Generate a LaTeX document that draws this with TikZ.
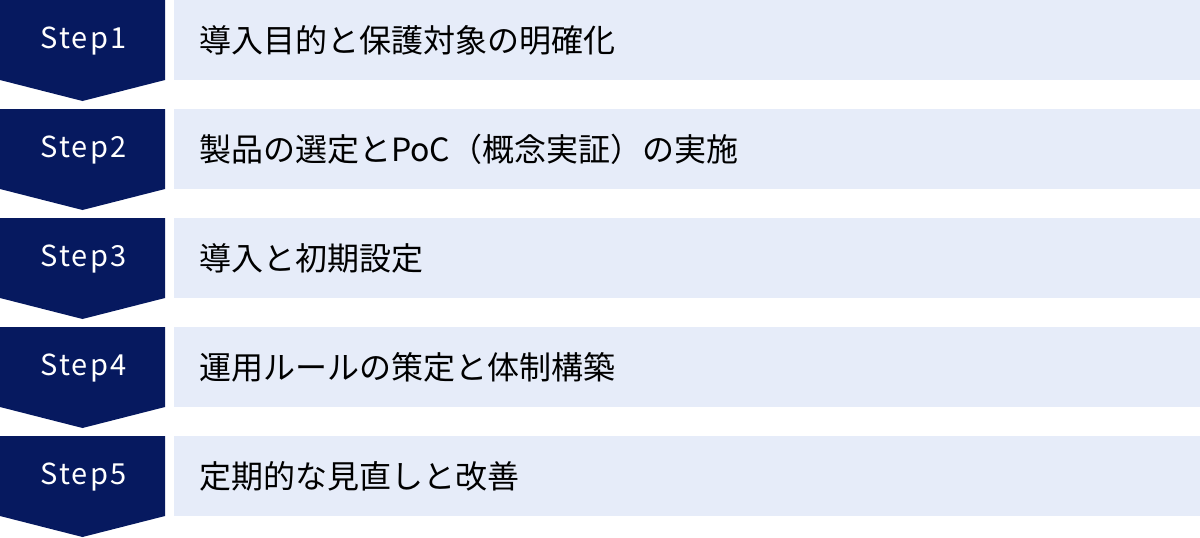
\documentclass[tikz,border=0pt]{standalone}
\usepackage{fontspec}
\setmainfont{Noto Sans CJK JP}
\newfontfamily\cjk{Noto Sans CJK JP}
\newfontfamily\cjkspaced[LetterSpace=7]{Noto Sans CJK JP}
\definecolor{navy}{HTML}{06195F}
\definecolor{pale}{HTML}{E6ECF9}
\tikzset{
  stepshape/.style={fill=navy},
  steplabel/.style={text=white, font=\cjkspaced\fontsize{29}{34}\selectfont, inner sep=0pt},
  barbox/.style={fill=pale},
  bartext/.style={text=black, font=\cjk\fontsize{32}{36}\selectfont, anchor=west, inner sep=0pt}
}
\begin{document}
\begin{tikzpicture}[x=1pt,y=-1pt]
\useasboundingbox (0,0) rectangle (1200,538);
\foreach \i/\t in {1/導入目的と保護対象の明確化,2/製品の選定とPoC（概念実証）の実施,3/導入と初期設定,4/運用ルールの策定と体制構築,5/定期的な見直しと改善}{
  \pgfmathsetmacro\top{(\i-1)*109}
  \fill[stepshape] (0,\top) -- (165,\top) -- (165,\top+80) -- (82.5,\top+101) -- (0,\top+80) -- cycle;
  \fill[barbox] (174,\top) rectangle (1200,\top+80);
  \node[steplabel] (step\i) at (83.5,\top+41) {Step\i};
  \node[bartext] (text\i) at (199,\top+40) {\t};
}
\end{tikzpicture}
\end{document}
